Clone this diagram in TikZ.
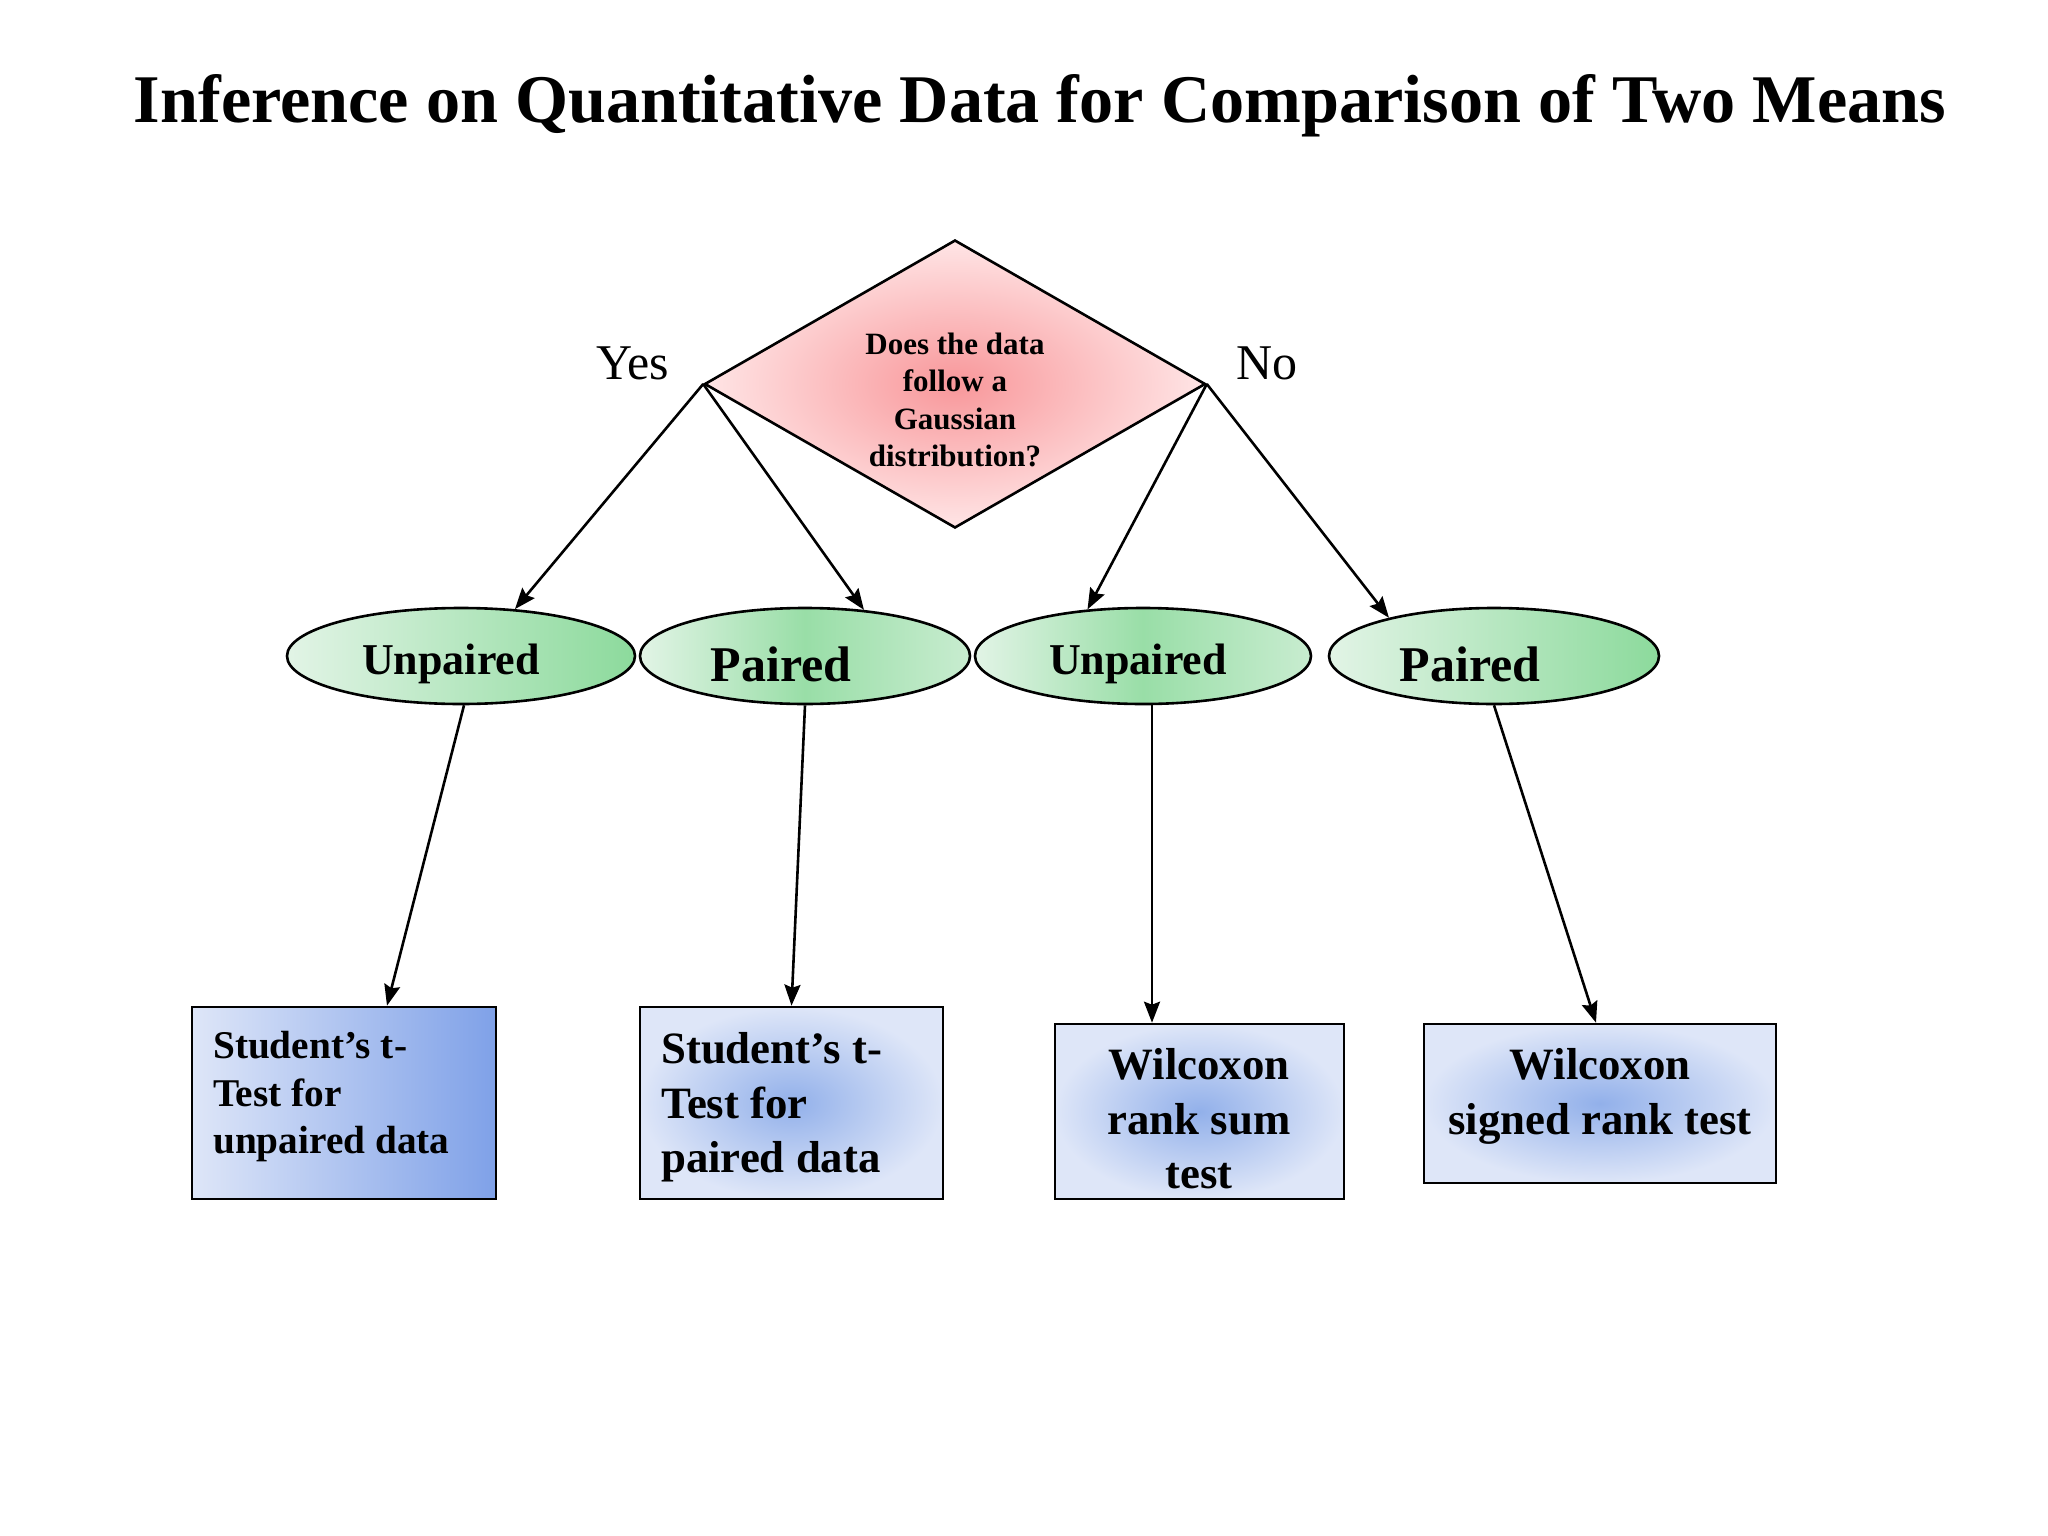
\documentclass[tikz,border=0pt]{standalone}
\usepackage{fontspec}
\setmainfont{Liberation Serif}
\usetikzlibrary{shapes.geometric,arrows.meta,calc}
\definecolor{pinkin}{HTML}{F8979A}
\definecolor{pinkout}{HTML}{FFDADB}
\definecolor{grlight}{HTML}{E2F4E6}
\definecolor{grdark}{HTML}{8CDA9C}
\definecolor{bllight}{HTML}{DEE6F8}
\definecolor{bldark}{HTML}{7FA1E8}
\definecolor{blmid}{HTML}{92B0EA}
\tikzset{
  lw/.style={line width=2.6pt},
  arr/.style={lw, -{Stealth[length=21pt,width=16pt,inset=3pt]}},
  oval/.style={ellipse, draw=black, lw, inner sep=0pt, minimum height=96pt},
  ovallr/.style={oval, left color=grlight, right color=grdark},
  ovalmid/.style={oval, left color=grlight, right color=grlight!70!grdark, middle color=grdark!85!grlight},
  unp/.style={font=\bfseries\fontsize{44}{48}\selectfont, text height=40pt, text depth=2.8pt},
  pai/.style={font=\bfseries\fontsize{50}{54}\selectfont, text height=55pt, text depth=4pt},
  testbox/.style={rectangle, draw=black, lw, inner sep=0pt},
  boxrad/.style={testbox, shading=radial, inner color=blmid, outer color=bllight},
  boxtext/.style={inner sep=0pt, font=\bfseries\fontsize{44.8}{54.5}\selectfont},
  plain/.style={font=\fontsize{50}{54}\selectfont},
}
\begin{document}
\begin{tikzpicture}[x=1pt,y=-1pt]
\useasboundingbox (0,0) rectangle (2048,1536);
\fill[white] (0,0) rectangle (2048,1536);

\node[anchor=base, inner sep=0pt, font=\bfseries\fontsize{68.2}{74}\selectfont] (title) at (1040,123)
  {Inference on Quantitative Data for Comparison of Two Means};

\node[diamond, draw=black, lw, inner sep=0pt, minimum width=501pt, minimum height=288pt,
      shading=radial, inner color=pinkin, outer color=pinkout!70!white] (d) at (955,384) {};
\node[align=center, inner sep=0pt, font=\bfseries\fontsize{31}{37.5}\selectfont] (dtext) at (955,400)
  {Does the data\\follow a\\Gaussian\\distribution?};

\node[plain] (yes) at (633,363) {Yes};
\node[plain] (no) at (1267,363) {No};

\node[ovallr, minimum width=348pt, unp] (e1) at (461,656) {\hspace*{-20pt}Unpaired};
\node[ovalmid, minimum width=330pt, pai] (e2) at (805,656) {\hspace*{-48pt}Paired};
\node[ovalmid, minimum width=336pt, unp] (e3) at (1143,656) {\hspace*{-10pt}Unpaired};
\node[ovallr, minimum width=330pt, pai] (e4) at (1494,656) {\hspace*{-48pt}Paired};

\node[testbox, left color=bllight, right color=bldark, minimum width=304pt, minimum height=192pt] (b1) at (344,1103) {};
\node[boxrad, minimum width=303pt, minimum height=192pt] (b2) at (791.5,1103) {};
\node[boxrad, minimum width=289pt, minimum height=175pt] (b3) at (1199.5,1111.5) {};
\node[boxrad, minimum width=352pt, minimum height=159pt] (b4) at (1600,1103.5) {};

\node[boxtext, anchor=west, align=left, font=\bfseries\fontsize{39.3}{47.5}\selectfont] (t1) at (213,1096.6)
  {Student’s t-\\Test for\\unpaired data};
\node[boxtext, anchor=west, align=left] (t2) at (661,1107.5)
  {Student’s t-\\Test for\\paired data};
\node[boxtext, align=center] (t3) at (1199,1119)
  {Wilcoxon\\rank sum\\test};
\node[boxtext, align=center] (t4) at (1600,1096.5)
  {Wilcoxon\\signed rank test};

\draw[arr] (d.west) -- (e1.41);
\draw[arr] (d.west) -- (e2.38);
\draw[arr] (d.east) -- (e3.140);
\draw[arr] (d.east) -- (e4.160);

\draw[arr] ([xshift=3pt]e1.south) -- ([xshift=43pt]b1.north);
\draw[arr] (e2.south) -- (b2.north);
\draw[arr] ([xshift=9pt]e3.south) -- ([xshift=9pt]e3.south |- b3.north);
\draw[arr] (e4.south) -- ([xshift=-4pt]b4.north);
\end{tikzpicture}
\end{document}
